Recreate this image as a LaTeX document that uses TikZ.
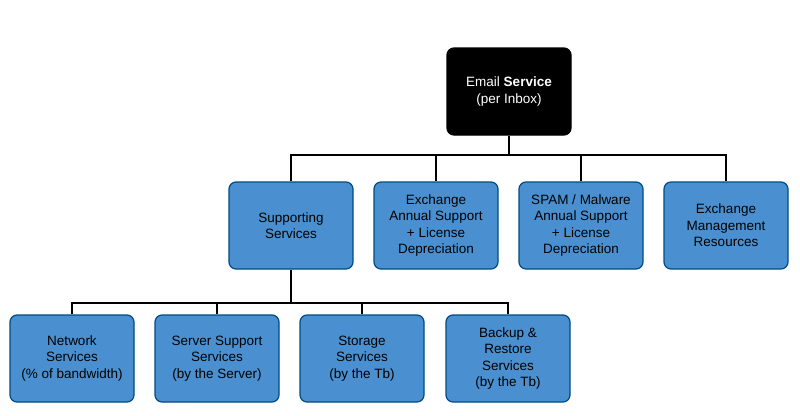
\documentclass[tikz,border=0pt]{standalone}
\usepackage{fontspec}
\setmainfont{Liberation Sans}
\begin{document}
\begin{tikzpicture}[x=1pt,y=-1pt,
  box/.style={draw=blue!30!black!70!cyan, line width=1.2pt, fill={rgb,255:red,74;green,144;blue,208}, rounded corners=7pt, minimum width=124pt, minimum height=87pt, align=center, font=\fontsize{13.5}{16.5}\selectfont, inner sep=2pt},
  top/.style={box, fill=black, draw=black, text=white},
  conn/.style={line width=1.5pt, black}]
\useasboundingbox (0,0) rectangle (800,415);
\fill[white] (0,0) rectangle (800,415);
\node[top] (email) at (509,91.5) {Email \textbf{Service}\\(per Inbox)};
\node[box] (sup) at (291,225.5) {Supporting\\Services};
\node[box] (exch) at (436,225.5) {Exchange\\Annual Support\\+ License\\Depreciation};
\node[box] (spam) at (581,225.5) {SPAM / Malware\\Annual Support\\+ License\\Depreciation};
\node[box] (mgmt) at (726,225.5) {Exchange\\Management\\Resources};
\node[box] (net) at (72,358.5) {Network\\Services\\(\% of bandwidth)};
\node[box] (srv) at (217,358.5) {Server Support\\Services\\(by the Server)};
\node[box] (stor) at (362,358.5) {Storage\\Services\\(by the Tb)};
\node[box] (back) at (508,358.5) {Backup \&\\Restore\\Services\\(by the Tb)};
\coordinate (j1) at (509,155);
\coordinate (j2) at (291,303);
\draw[conn] (email.south) -- (j1);
\draw[conn] (sup.north) |- (j1);
\draw[conn] (j1) -| (mgmt.north);
\draw[conn] (exch.north) -- (exch.north |- j1);
\draw[conn] (spam.north) -- (spam.north |- j1);
\draw[conn] (sup.south) -- (j2);
\draw[conn] (net.north) |- (j2);
\draw[conn] (j2) -| (back.north);
\draw[conn] (srv.north) -- (srv.north |- j2);
\draw[conn] (stor.north) -- (stor.north |- j2);
\end{tikzpicture}
\end{document}
